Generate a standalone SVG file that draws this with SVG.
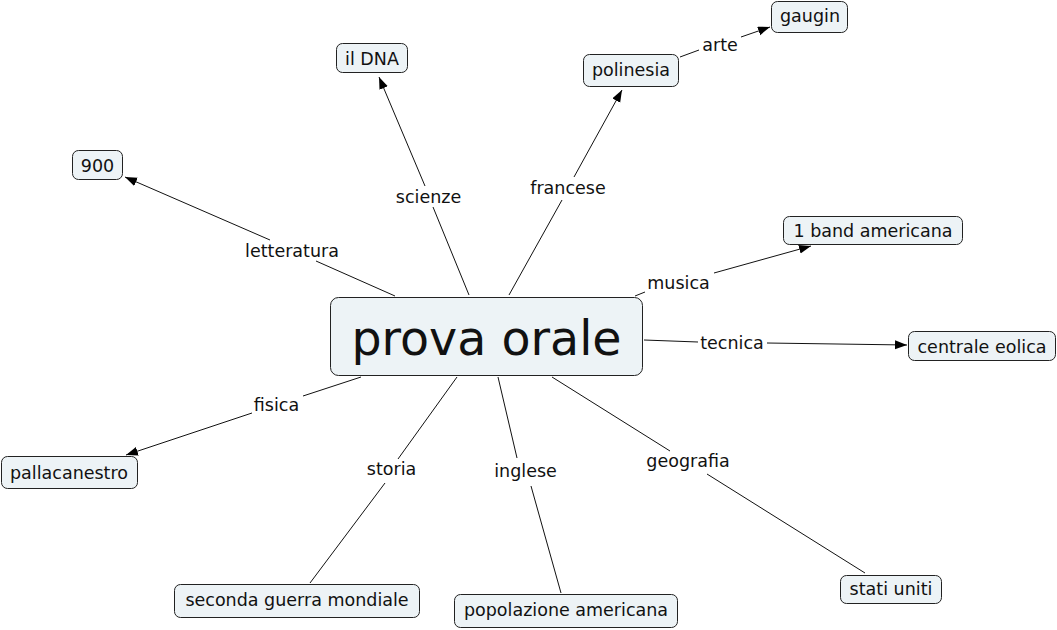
<svg xmlns="http://www.w3.org/2000/svg" width="1057" height="630" viewBox="0 0 1057 630">
<defs>
<marker id="arr" markerUnits="userSpaceOnUse" markerWidth="13" markerHeight="10" refX="12" refY="4.5" orient="auto">
<path d="M0,0 L12,4.5 L0,9 z" fill="#000"/>
</marker>
<style>
.n rect{fill:#edf3f6;stroke:#222;stroke-width:1}
.t{font-family:"DejaVu Sans","Verdana",sans-serif;font-size:17.5px;fill:#111;text-anchor:middle}
.big{font-size:47.5px}
.c line{stroke:#111;stroke-width:1}
.a{marker-end:url(#arr)}
</style>
</defs>
<rect width="1057" height="630" fill="#fff"/>
<g id="connectors" class="c">
<line x1="395" y1="296" x2="316" y2="261"/>
<line class="a" x1="270" y1="240" x2="125" y2="177"/>
<line x1="469" y1="295" x2="433" y2="207"/>
<line class="a" x1="425" y1="186" x2="379" y2="77"/>
<line x1="509" y1="295" x2="562" y2="200"/>
<line class="a" x1="574" y1="177" x2="622" y2="90"/>
<line x1="680" y1="57" x2="699" y2="50"/>
<line class="a" x1="741" y1="37" x2="770" y2="27"/>
<line x1="635" y1="296" x2="645" y2="292"/>
<line class="a" x1="714" y1="273" x2="811" y2="246"/>
<line x1="644" y1="340" x2="698" y2="342"/>
<line class="a" x1="767" y1="343" x2="907" y2="345"/>
<line x1="361" y1="377" x2="303" y2="396"/>
<line class="a" x1="252" y1="413" x2="126" y2="455"/>
<line x1="457" y1="377" x2="398" y2="459"/>
<line x1="385" y1="483" x2="310" y2="583"/>
<line x1="498" y1="377" x2="517" y2="458"/>
<line x1="531" y1="486" x2="561" y2="593"/>
<line x1="552" y1="377" x2="670" y2="451"/>
<line x1="707" y1="474" x2="865" y2="573"/>
</g>
<g id="link-labels">
<text class="t" x="292" y="257">letteratura</text>
<text class="t" x="428.5" y="203">scienze</text>
<text class="t" x="568" y="194">francese</text>
<text class="t" x="720" y="51">arte</text>
<text class="t" x="678.5" y="289">musica</text>
<text class="t" x="732" y="348.5">tecnica</text>
<text class="t" x="276.5" y="411">fisica</text>
<text class="t" x="391.5" y="474.5">storia</text>
<text class="t" x="525.5" y="477">inglese</text>
<text class="t" x="688" y="467">geografia</text>
</g>
<g id="node-center" class="n">
<rect x="330.5" y="297.5" width="312" height="78" rx="8"/>
<text class="t big" x="486.5" y="355">prova orale</text>
</g>
<g id="node-dna" class="n">
<rect x="336.5" y="43.5" width="71" height="29" rx="6"/>
<text class="t" x="372" y="65">il DNA</text>
</g>
<g id="node-polinesia" class="n">
<rect x="583.5" y="54.5" width="95" height="32" rx="6"/>
<text class="t" x="631" y="76">polinesia</text>
</g>
<g id="node-gaugin" class="n">
<rect x="771.5" y="1.5" width="76" height="31" rx="6"/>
<text class="t" x="810" y="22">gaugin</text>
</g>
<g id="node-900" class="n">
<rect x="72.5" y="150.5" width="50" height="29" rx="6"/>
<text class="t" x="97.5" y="172">900</text>
</g>
<g id="node-band" class="n">
<rect x="783.5" y="216.5" width="179" height="28" rx="6"/>
<text class="t" x="873" y="237">1 band americana</text>
</g>
<g id="node-eolica" class="n">
<rect x="908.5" y="331.5" width="147" height="29" rx="6"/>
<text class="t" x="982" y="353">centrale eolica</text>
</g>
<g id="node-pallacanestro" class="n">
<rect x="1.5" y="456.5" width="136" height="32" rx="6"/>
<text class="t" x="69" y="478.5">pallacanestro</text>
</g>
<g id="node-seconda" class="n">
<rect x="174.5" y="584.5" width="245" height="33" rx="6"/>
<text class="t" x="297" y="605.5">seconda guerra mondiale</text>
</g>
<g id="node-popolazione" class="n">
<rect x="454.5" y="594.5" width="223" height="33" rx="6"/>
<text class="t" x="566" y="615.5">popolazione americana</text>
</g>
<g id="node-stati" class="n">
<rect x="840.5" y="575.5" width="101" height="28" rx="6"/>
<text class="t" x="891" y="595">stati uniti</text>
</g>
</svg>
